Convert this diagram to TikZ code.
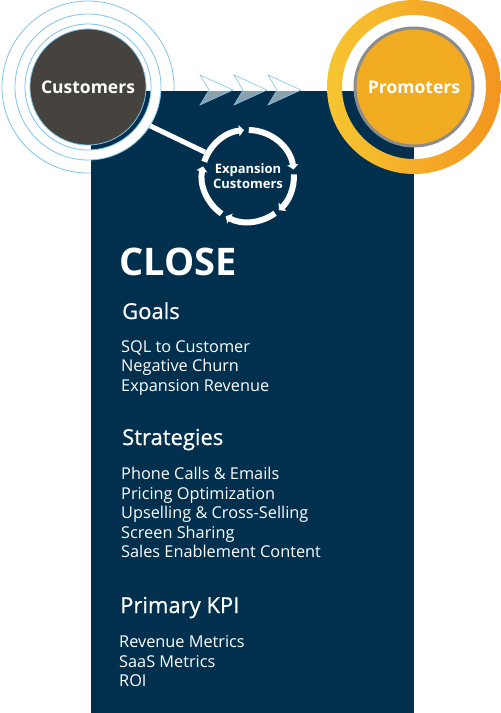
\documentclass[tikz,border=0pt]{standalone}
\usepackage{fontspec}
\setmainfont{Open Sans}
\newfontfamily\semibfont{Open Sans}[FakeBold=0.7]
\usetikzlibrary{arrows.meta,shapes.geometric}
\definecolor{navy}{HTML}{00304D}
\definecolor{diskgray}{HTML}{46423D}
\definecolor{ltblue}{HTML}{7CC3EA}
\definecolor{yel}{HTML}{F6C532}
\definecolor{org}{HTML}{F3951F}
\definecolor{promo}{HTML}{F2AC22}
\definecolor{ringgray}{HTML}{8C8C8C}
\tikzset{
  listtxt/.style={anchor=base west,inner sep=0pt,text=white,font=\fontsize{16.3}{19}\selectfont},
  headtxt/.style={anchor=base west,inner sep=0pt,text=white,font=\semibfont\fontsize{22}{26}\selectfont},
  ring/.style={draw=ltblue,line width=0.8pt},
  chev/.style={draw=ltblue,line width=0.6pt,fill=white,fill opacity=0.55},
  cycarrow/.style={draw=white,line width=6pt,-{Triangle[width=11pt,length=5pt]}},
}
\begin{document}
\begin{tikzpicture}[x=1pt,y=-1pt]
\useasboundingbox (0,0) rectangle (501,713);
% outer thin ring of customers (under the panel)
\draw[ring] (88,87) circle (86);
% navy panel
\fill[navy] (91,91) rectangle (414,713);
% chevrons
\foreach \i in {0,1,2}{
  \path[chev] (200+34*\i,75) -- (233+34*\i,90) -- (200+34*\i,105) -- (209+34*\i,90) -- cycle;
}
% customers
\path[ring,fill=white,even odd rule] (88,87) circle (73) (88,87) circle (63);
\node[circle,fill=diskgray,draw=ltblue,line width=0.8pt,minimum size=116pt,inner sep=0pt,
  text=white,font=\bfseries\fontsize{17.5}{20}\selectfont] (cust) at (88,87) {Customers};
\node[circle,minimum size=146pt,inner sep=0pt] (custouter) at (88,87) {};
% promoters
\path[shade,left color=yel,right color=org,even odd rule]
  (414,87) circle (87) (414,87) circle (72);
\node[circle,fill=promo,draw=ringgray,line width=3pt,minimum size=118pt,inner sep=0pt,
  text=white,font=\bfseries\fontsize{17.5}{20}\selectfont] (prom) at (414,87) {Promoters};
% expansion cycle
\node[circle,minimum size=98pt,inner sep=0pt,align=center,text=white,
  font=\bfseries\fontsize{13}{15.5}\selectfont] (cyc) at (248,176) {Expansion\\Customers};
\draw[white,line width=5pt] (custouter.-32) -- (cyc.151);
\foreach \s/\e in {-162/-95,-89/-8,-2/48,54/119,125/192}{
  \draw[cycarrow] (cyc.center) ++(\s:46) arc[start angle=\s,end angle=\e,radius=46];
}
% text
\node[anchor=base west,inner sep=0pt,text=white,font=\bfseries\fontsize{38}{44}\selectfont] (close) at (119,275) {CLOSE};
\node[headtxt] (goals) at (122,319) {Goals};
\node[listtxt] (g1) at (121,352) {SQL to Customer};
\node[listtxt] (g2) at (121,371) {Negative Churn};
\node[listtxt] (g3) at (121,391) {Expansion Revenue};
\node[headtxt] (strat) at (122,445) {Strategies};
\node[listtxt] (s1) at (121,479) {Phone Calls \& Emails};
\node[listtxt] (s2) at (121,499) {Pricing Optimization};
\node[listtxt] (s3) at (121,518) {Upselling \& Cross-Selling};
\node[listtxt] (s4) at (121,538) {Screen Sharing};
\node[listtxt] (s5) at (121,557) {Sales Enablement Content};
\node[headtxt] (kpi) at (120,613) {Primary KPI};
\node[listtxt] (k1) at (119,647) {Revenue Metrics};
\node[listtxt] (k2) at (119,667) {SaaS Metrics};
\node[listtxt] (k3) at (119,686) {ROI};
\end{tikzpicture}
\end{document}
